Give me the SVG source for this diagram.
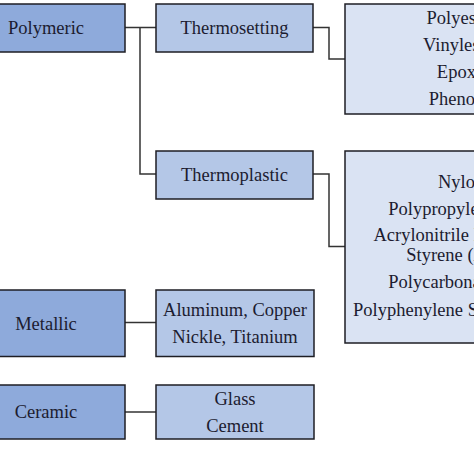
<svg xmlns="http://www.w3.org/2000/svg" width="474" height="474" viewBox="0 0 474 474">
<style>
rect{stroke:#1e1e24;stroke-width:1.5}
.l1{fill:#8eaadb}
.l2{fill:#b4c7e7}
.l3{fill:#dae3f3}
text{font-family:"Liberation Serif","Times New Roman",serif;font-size:18.5px;fill:#1c1c30;text-anchor:middle}
.c{fill:none;stroke:#333;stroke-width:1.5}
</style>
<rect width="474" height="474" fill="#fff" style="stroke:none"/>
<g id="connectors">
<path class="c" d="M125 27.5H156M140 27.5V174H156"/>
<path class="c" d="M313 27.5H329V59H345"/>
<path class="c" d="M313 174H329V246.5H345"/>
<path class="c" d="M125 322.5H156"/>
<path class="c" d="M125 412H156"/>
</g>
<g id="polymeric"><rect class="l1" x="-40" y="4" width="165" height="48"/><text x="46" y="34">Polymeric</text></g>
<g id="thermosetting"><rect class="l2" x="156" y="4" width="157" height="48"/><text x="234.5" y="34">Thermosetting</text></g>
<g id="thermosets"><rect class="l3" x="345" y="4" width="232" height="110"/>
<text x="461" y="24">Polyester</text><text x="461" y="51">Vinylester</text><text x="461" y="78">Epoxy</text><text x="461" y="105">Phenolic</text></g>
<g id="thermoplastic"><rect class="l2" x="156" y="151" width="157" height="48"/><text x="234.5" y="181">Thermoplastic</text></g>
<g id="thermoplastics"><rect class="l3" x="345" y="151" width="232" height="192"/>
<text x="461" y="187.5">Nylon</text><text x="461" y="215">Polypropylene (PP)</text><text x="461" y="241">Acrylonitrile Butadiene</text><text x="461" y="260.5">Styrene (ABS)</text><text x="461" y="288">Polycarbonate (PC)</text><text x="461" y="315.5">Polyphenylene Sulfide (PPS)</text></g>
<g id="metallic"><rect class="l1" x="-40" y="290" width="165" height="66.5"/><text x="46" y="330">Metallic</text></g>
<g id="metals"><rect class="l2" x="156" y="290" width="158" height="66.5"/><text x="235" y="315.5">Aluminum, Copper</text><text x="235" y="342.5">Nickle, Titanium</text></g>
<g id="ceramic"><rect class="l1" x="-40" y="385" width="165" height="54"/><text x="46" y="418">Ceramic</text></g>
<g id="ceramics"><rect class="l2" x="156" y="385" width="158" height="54"/><text x="235" y="405">Glass</text><text x="235" y="431.5">Cement</text></g>
</svg>
